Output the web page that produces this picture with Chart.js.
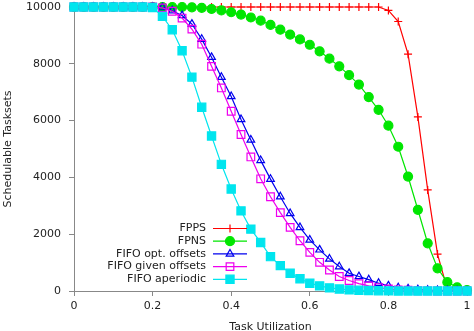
<!DOCTYPE html>
<html>
<head>
<meta charset="utf-8">
<script src="https://cdn.jsdelivr.net/npm/chart.js@4/dist/chart.umd.min.js"></script>
<style>
    body { margin: 0; background: #fff; }
</style>
</head>
<body>
<canvas id="myChart" width="474" height="331"></canvas>
<script>
const utilization = [0, 0.025, 0.05, 0.075, 0.1, 0.125, 0.15, 0.175, 0.2, 0.225,
    0.25, 0.275, 0.3, 0.325, 0.35, 0.375, 0.4, 0.425, 0.45, 0.475,
    0.5, 0.525, 0.55, 0.575, 0.6, 0.625, 0.65, 0.675, 0.7, 0.725,
    0.75, 0.775, 0.8, 0.825, 0.85, 0.875, 0.9, 0.925, 0.95, 0.975, 1];

const fpps = [10000, 10000, 10000, 10000, 10000, 10000, 10000, 10000, 10000, 10000,
    10000, 10000, 10000, 10000, 10000, 10000, 10000, 10000, 10000, 10000,
    10000, 10000, 10000, 10000, 10000, 10000, 10000, 10000, 10000, 10000,
    10000, 10000, 9880, 9490, 8340, 6130, 3560, 1300, 60, 0, 0];

const fpns = [10000, 10000, 10000, 10000, 10000, 10000, 10000, 10000, 10000, 10000,
    10000, 10000, 9990, 9970, 9930, 9880, 9815, 9735, 9630, 9520,
    9370, 9200, 9030, 8860, 8670, 8440, 8180, 7910, 7600, 7270,
    6830, 6380, 5820, 5080, 4030, 2860, 1680, 800, 310, 130, 30];

const fifoOpt = [10000, 10000, 10000, 10000, 10000, 10000, 10000, 10000, 10000, 9980,
    9870, 9700, 9400, 8870, 8230, 7530, 6850, 6040, 5320, 4600,
    3940, 3320, 2730, 2240, 1800, 1450, 1130, 860, 625, 510,
    400, 275, 185, 120, 80, 50, 30, 20, 10, 5, 0];

const fifoGiven = [10000, 10000, 10000, 10000, 10000, 10000, 10000, 10000, 10000, 9970,
    9850, 9610, 9220, 8690, 7910, 7150, 6330, 5510, 4720, 3950,
    3320, 2760, 2240, 1770, 1360, 1010, 740, 510, 370, 260,
    180, 120, 70, 40, 25, 10, 5, 0, 0, 0, 0];

const fifoAperiodic = [10000, 10000, 10000, 10000, 10000, 10000, 10000, 10000, 9980, 9670,
    9200, 8460, 7530, 6470, 5460, 4460, 3590, 2820, 2180, 1710,
    1210, 895, 625, 430, 275, 180, 110, 70, 40, 25,
    15, 10, 5, 0, 0, 0, 0, 0, 0, 0, 0];

const xTicks = [0, 0.2, 0.4, 0.6, 0.8, 1];
const yTicks = [0, 2000, 4000, 6000, 8000, 10000];

const FONT = "'DejaVu Sans', sans-serif";
const AXIS_COLOR = '#888';

function points(values) {
    let out = [];
    for (let i = 0; i < utilization.length; i++) {
        out.push({ x: utilization[i], y: values[i] });
    }
    return out;
}

function series(label, values, color, style, radius, filled, order) {
    return {
        label: label,
        data: points(values),
        borderColor: color,
        backgroundColor: color,
        borderWidth: 1.2,
        pointStyle: style,
        pointRadius: radius,
        pointBorderWidth: 1.2,
        pointBorderColor: color,
        pointBackgroundColor: filled ? color : 'rgba(0,0,0,0)',
        tension: 0,
        clip: false,
        order: order
    };
}

// gnuplot style key: right aligned text, then a short line with its marker
const keyPlugin = {
    id: 'key',
    afterDatasetsDraw(chart) {
        let ctx = chart.ctx;
        ctx.save();
        ctx.font = '11px ' + FONT;
        ctx.textAlign = 'right';
        ctx.textBaseline = 'middle';
        chart.data.datasets.forEach((ds, i) => {
            let y = 228.5 + i * 12.7;
            ctx.fillStyle = '#222';
            ctx.fillText(ds.label, 206, y);
            ctx.strokeStyle = ds.borderColor;
            ctx.lineWidth = ds.borderWidth;
            ctx.beginPath();
            ctx.moveTo(213, y);
            ctx.lineTo(247, y);
            ctx.stroke();
            ctx.fillStyle = ds.pointBackgroundColor;
            ctx.strokeStyle = ds.pointBorderColor;
            ctx.lineWidth = ds.pointBorderWidth;
            Chart.helpers.drawPoint(ctx, {
                pointStyle: ds.pointStyle,
                radius: ds.pointRadius,
                rotation: 0,
                borderWidth: ds.pointBorderWidth
            }, 230, y);
        });
        ctx.restore();
    }
};

var ctx = document.getElementById('myChart').getContext('2d');
var chart = new Chart(ctx, {
    type: 'line',
    data: {
        datasets: [
            series('FPPS', fpps, '#ff0000', 'cross', 4, false, 5),
            series('FPNS', fpns, '#00e600', 'circle', 4.5, true, 4),
            series('FIFO opt. offsets', fifoOpt, '#0000ee', 'triangle', 4.4, false, 3),
            series('FIFO given offsets', fifoGiven, '#ee00ee', 'rect', 5.4, false, 2),
            series('FIFO aperiodic', fifoAperiodic, '#00e5ee', 'rect', 5.8, true, 1)
        ]
    },
    options: {
        responsive: false,
        animation: false,
        devicePixelRatio: 1,
        layout: { padding: { top: 5, right: 4, left: 0, bottom: 0 } },
        plugins: {
            legend: { display: false },
            tooltip: { enabled: false }
        },
        scales: {
            x: {
                type: 'linear',
                min: 0,
                max: 1,
                afterBuildTicks: (scale) => {
                    scale.ticks = xTicks.map(v => ({ value: v }));
                },
                afterFit: (scale) => {
                    scale.height = 40;
                    scale.paddingLeft = 0;
                    scale.paddingRight = 0;
                },
                ticks: {
                    color: '#222',
                    font: { family: FONT, size: 11 },
                    padding: 4,
                    maxRotation: 0,
                    callback: (v) => String(v)
                },
                grid: { drawOnChartArea: false, color: AXIS_COLOR, tickLength: 5 },
                border: { color: AXIS_COLOR, width: 1 },
                title: {
                    display: true,
                    text: 'Task Utilization',
                    color: '#222',
                    font: { family: FONT, size: 11 },
                    padding: { top: 0, bottom: -3 }
                }
            },
            y: {
                min: 0,
                max: 10000,
                afterBuildTicks: (scale) => {
                    scale.ticks = yTicks.map(v => ({ value: v }));
                },
                afterFit: (scale) => {
                    scale.width = 74;
                    scale.paddingTop = 0;
                    scale.paddingBottom = 0;
                },
                ticks: {
                    color: '#222',
                    font: { family: FONT, size: 11 },
                    padding: 8,
                    callback: (v) => String(v)
                },
                grid: { drawOnChartArea: false, color: AXIS_COLOR, tickLength: 5 },
                border: { color: AXIS_COLOR, width: 1 },
                title: {
                    display: true,
                    text: 'Schedulable Tasksets',
                    color: '#222',
                    font: { family: FONT, size: 11 },
                    padding: { top: 2, bottom: 0 }
                }
            }
        }
    },
    plugins: [keyPlugin]
});
</script>
</body>
</html>
